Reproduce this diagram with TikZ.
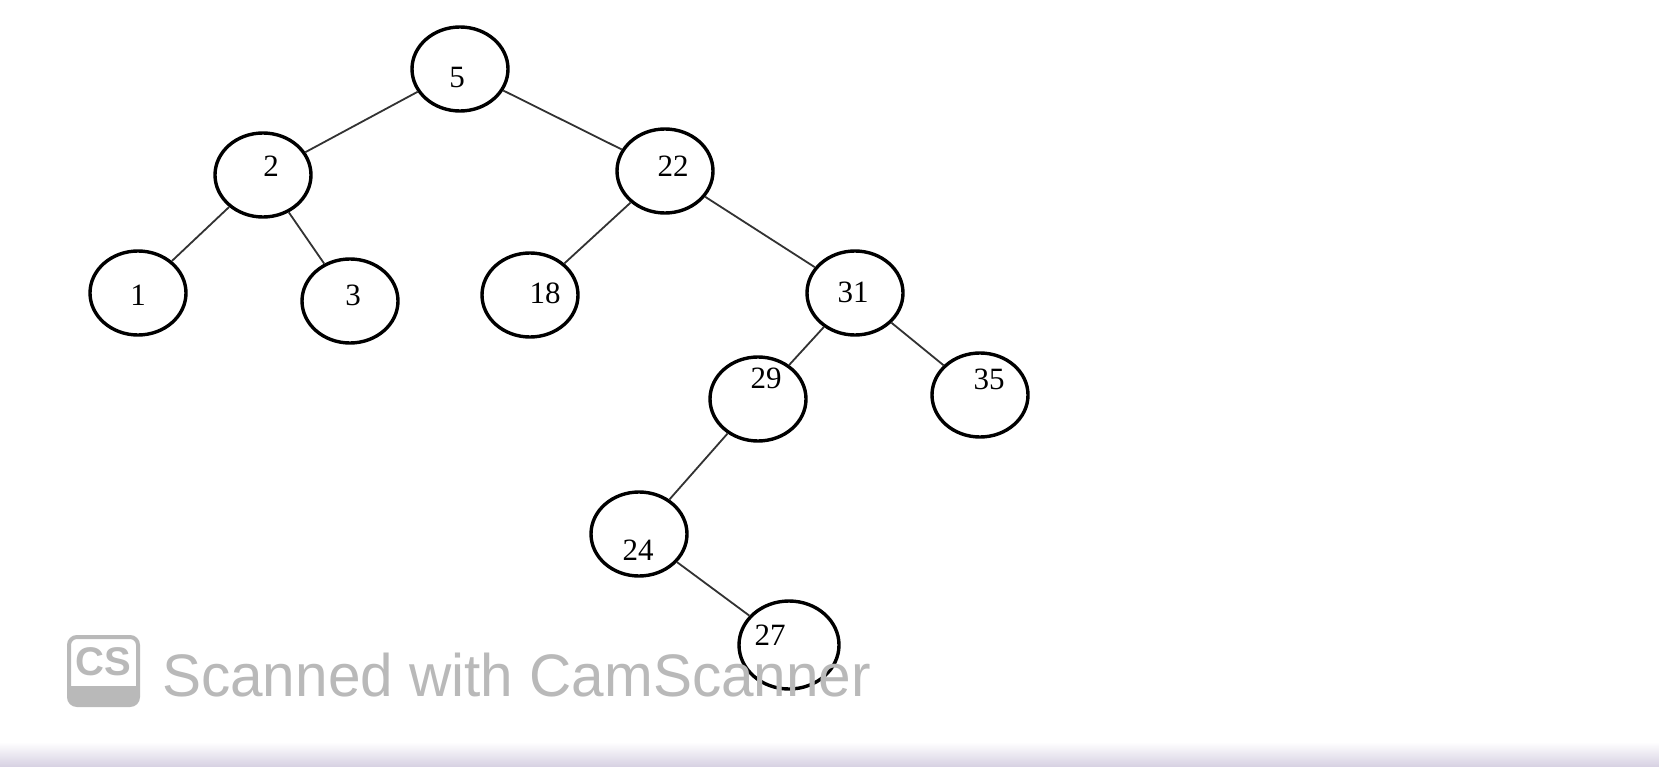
\documentclass[tikz,border=0pt]{standalone}
\usepackage{fontspec}
\setmainfont{Liberation Serif}
\newfontfamily\wmfont{Liberation Sans}
\usetikzlibrary{shapes.geometric}
\definecolor{wmgray}{RGB}{185,185,185}
\definecolor{edgecol}{RGB}{50,50,50}
\definecolor{bandcol}{RGB}{214,208,226}
\begin{document}
\begin{tikzpicture}[x=1pt,y=-1pt,
  tnode/.style={draw=black, ellipse, line width=3.4pt, minimum width=96pt, minimum height=84pt, inner sep=0pt},
  tlabel/.style={font=\fontsize{31}{32}\selectfont, inner sep=0pt},
  edge/.style={draw=edgecol, line width=1.8pt}]
\path[fill=white] (0,0) rectangle (1659,767);
\useasboundingbox (0,0) rectangle (1659,767);
\shade[top color=white, bottom color=bandcol] (0,742) rectangle (1659,767);
% nodes
\node[tnode] (n5) at (460,69) {};
\node[tnode] (n2) at (263,175) {};
\node[tnode] (n22) at (665,171) {};
\node[tnode] (n1) at (138,293) {};
\node[tnode] (n3) at (350,301) {};
\node[tnode] (n18) at (530,295) {};
\node[tnode] (n31) at (855,293) {};
\node[tnode] (n29) at (758,399) {};
\node[tnode] (n35) at (980,395) {};
\node[tnode] (n24) at (639,534) {};
\node[tnode, minimum width=100pt, minimum height=88pt] (n27) at (789,645) {};
% labels
\node[tlabel] (t5) at (457,78) {5};
\node[tlabel] (t2) at (271,166) {2};
\node[tlabel] (t22) at (673,166) {22};
\node[tlabel] (t1) at (138,295) {1};
\node[tlabel] (t3) at (353,295) {3};
\node[tlabel] (t18) at (545,293) {18};
\node[tlabel] (t31) at (853,292) {31};
\node[tlabel] (t29) at (766,378) {29};
\node[tlabel] (t35) at (989,379) {35};
\node[tlabel] (t24) at (638,550) {24};
\node[tlabel] (t27) at (770,635) {27};
% edges
\draw[edge] (n5) -- (n2);
\draw[edge] (n5) -- (n22);
\draw[edge] (n2) -- (n1);
\draw[edge] (n2) -- (n3);
\draw[edge] (n22) -- (n18);
\draw[edge] (n22) -- (n31);
\draw[edge] (n31) -- (n29);
\draw[edge] (n31) -- (n35);
\draw[edge] (n29) -- (n24);
\draw[edge] (n24) -- (n27);
% watermark
\draw[wmgray, line width=4pt, rounded corners=8pt] (69,637) rectangle (138,705);
\fill[wmgray, rounded corners=6pt] (69,686) rectangle (138,705);
\fill[wmgray] (69,686) rectangle (138,695);
\node[font=\wmfont\bfseries\fontsize{40}{40}\selectfont, text=wmgray, inner sep=0pt] (cs) at (103,662) {CS};
\node[font=\wmfont\fontsize{60}{60}\selectfont, text=wmgray, anchor=base west, inner sep=0pt, xscale=0.975, transform shape] (wm) at (162,696) {Scanned with CamScanner};
\end{tikzpicture}
\end{document}
